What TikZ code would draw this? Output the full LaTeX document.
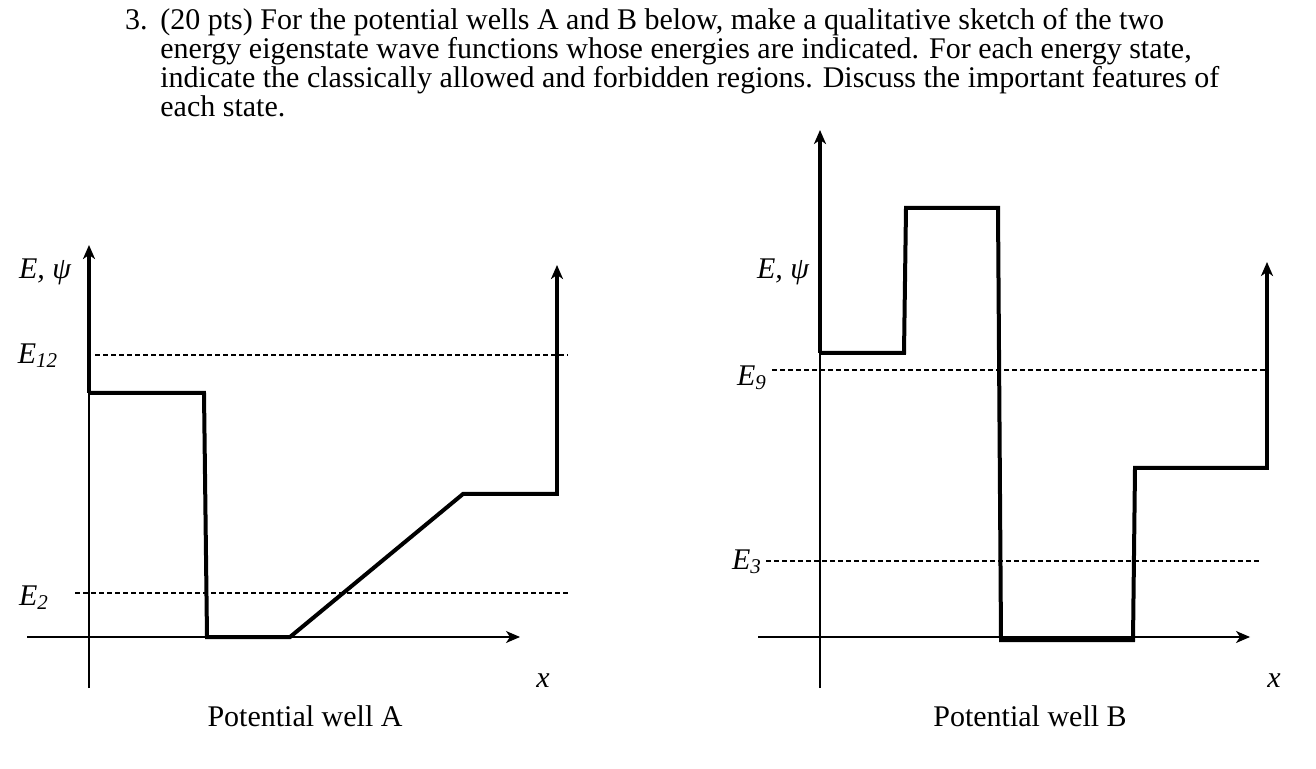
\documentclass[tikz,border=0pt]{standalone}
\usepackage{fontspec}
\setmainfont{Liberation Serif}
\usetikzlibrary{arrows.meta}
\begin{document}
\begin{tikzpicture}[x=0.5pt,y=-0.5pt,
  txt/.style={inner sep=0pt,font=\fontsize{15}{18}\selectfont},
  lbl/.style={inner sep=0pt,font=\fontsize{15}{18}\selectfont\itshape},
  pot/.style={line width=2pt,line join=miter},
  ax/.style={line width=0.7pt},
  arr/.style={-{Stealth[length=7pt,width=6pt,inset=2pt]}},
  lvl/.style={dashed,line width=0.6pt,dash pattern=on 2.5pt off 1.5pt}]
\useasboundingbox (0,0) rectangle (1316,769);
% header
\node[txt,anchor=base east] (num) at (148,30) {3.};
\node[txt,anchor=base west] (l1) at (160,30) {(20 pts) For the potential wells A and B below, make a qualitative sketch of the two};
\node[txt,anchor=base west] (l2) at (160,59) {energy eigenstate wave functions whose energies are indicated. For each energy state,};
\node[txt,anchor=base west] (l3) at (160,88) {indicate the classically allowed and forbidden regions. Discuss the important features of};
\node[txt,anchor=base west] (l4) at (160,117) {each state.};
% well A
\coordinate (ay0) at (89,688); \coordinate (ay1) at (89,393);
\draw[ax] (ay0) -- (ay1);
\coordinate (ax0) at (27,637); \coordinate (ax1) at (520,637);
\draw[ax,arr] (ax0) -- (ax1);
\draw[pot,arr] (89,393) -- (89,245);
\draw[pot] (89,393) -- (204,393) -- (207,637) -- (290,637) -- (463,494) -- (557,494);
\draw[pot,arr] (557,496) -- (557,265);
\coordinate (e12a) at (95,355); \coordinate (e12b) at (568,355);
\draw[lvl] (e12a) -- (e12b);
\coordinate (e2a) at (75,593); \coordinate (e2b) at (571,593);
\draw[lvl] (e2a) -- (e2b);
\node[lbl] (EpA) at (45,272) {E, \textrm{\itshape ψ}};
\node[lbl] (E12) at (38,356) {E\textsubscript{12}};
\node[lbl] (E2) at (34,598) {E\textsubscript{2}};
\node[lbl] (xA) at (543,681) {x};
\node[txt] (capA) at (305,716) {Potential well A};
% well B
\coordinate (by0) at (820,688); \coordinate (by1) at (820,353);
\draw[ax] (by0) -- (by1);
\coordinate (bx0) at (758,637); \coordinate (bx1) at (1250,637);
\draw[ax,arr] (bx0) -- (bx1);
\draw[pot,arr] (820,353) -- (820,130);
\draw[pot] (820,353) -- (904,353) -- (906,208) -- (998,208) -- (1001,640) -- (1133,640) -- (1135,468) -- (1267,468);
\draw[pot,arr] (1267,470) -- (1267,262);
\coordinate (e9a) at (772,370); \coordinate (e9b) at (1265,370);
\draw[lvl] (e9a) -- (e9b);
\coordinate (e3a) at (766,561); \coordinate (e3b) at (1262,561);
\draw[lvl] (e3a) -- (e3b);
\node[lbl] (EpB) at (783,272) {E, \textrm{\itshape ψ}};
\node[lbl] (E9) at (752,378) {E\textsubscript{9}};
\node[lbl] (E3) at (747,562) {E\textsubscript{3}};
\node[lbl] (xB) at (1274,681) {x};
\node[txt] (capB) at (1030,716) {Potential well B};
\end{tikzpicture}
\end{document}
